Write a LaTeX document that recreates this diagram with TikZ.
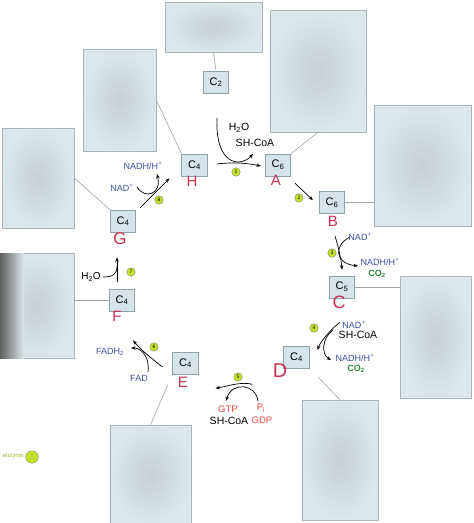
\documentclass[tikz,border=0pt]{standalone}
\usepackage{fontspec}
\setmainfont{Liberation Sans}
\usetikzlibrary{arrows.meta}
\definecolor{boxfill}{HTML}{D5E4EA}
\definecolor{boxedge}{HTML}{8FA2A9}
\definecolor{blankfill}{HTML}{DCE7EB}
\definecolor{blankedge}{HTML}{A9B6BB}
\definecolor{cofblue}{HTML}{3F4FA0}
\definecolor{cogreen}{HTML}{2E8B3A}
\definecolor{cored}{HTML}{E8473E}
\definecolor{hand}{HTML}{CC2F4E}
\definecolor{enzfill}{HTML}{C5E02B}
\definecolor{connline}{HTML}{9AA6AA}
\begin{document}
\begin{tikzpicture}[x=1pt,y=-1pt,
  cbox/.style={draw=boxedge, fill=boxfill, line width=0.6pt, minimum width=25.5pt, minimum height=22pt, inner sep=0pt, font=\fontsize{11}{12}\selectfont},
  blank/.style={draw=blankedge, fill=blankfill, line width=0.6pt, inner sep=0pt,
    path picture={\shade[inner color=black!10!blankfill, outer color=blankfill] (path picture bounding box.south west) rectangle (path picture bounding box.north east);}},
  conn/.style={draw=connline, line width=0.6pt},
  rx/.style={draw=black, line width=0.7pt, -{Stealth[length=4.5pt,width=3.5pt]}},
  rxplain/.style={draw=black, line width=0.7pt},
  enz/.style={circle, fill=enzfill, draw=black!55, line width=0.3pt, minimum size=8.5pt, inner sep=0pt, font=\fontsize{5}{5}\selectfont},
  cofb/.style={text=cofblue, font=\fontsize{9}{10}\selectfont, inner sep=0pt},
  cofg/.style={text=cogreen, font=\fontsize{9}{10}\selectfont\bfseries, inner sep=0pt},
  cofr/.style={text=cored, font=\fontsize{9.5}{10}\selectfont, inner sep=0pt},
  cofk/.style={text=black, font=\fontsize{10.5}{11}\selectfont, inner sep=0pt},
  handlet/.style={text=hand, inner sep=0pt, font=\fontsize{15}{15}\selectfont}
]
\useasboundingbox (0,0) rectangle (474,523);

% blank answer boxes
\node[blank, minimum width=97pt, minimum height=50pt] (bTop) at (213.5,27) {};
\node[blank, minimum width=96pt, minimum height=122pt] (bTR) at (318,71) {};
\node[blank, minimum width=97pt, minimum height=121pt] (bR) at (422.5,165.5) {};
\node[blank, minimum width=71pt, minimum height=122pt] (bRL) at (435.5,337) {};
\node[blank, minimum width=76pt, minimum height=120pt] (bBR) at (340,460) {};
\node[blank, minimum width=81pt, minimum height=100pt] (bBL) at (150.5,475) {};
\node[blank, minimum width=75pt, minimum height=105pt] (bLL) at (36.5,305.5) {};
\shade[left color=black!65, right color=blankfill] (-1,253) rectangle (24,358);
\node[blank, minimum width=72pt, minimum height=100pt] (bLU) at (38,178) {};
\node[blank, minimum width=73pt, minimum height=102pt] (bUL) at (119.5,100) {};

% carbon boxes
\node[cbox] (c2) at (216,82) {C\textsubscript{2}};
\node[cbox] (h) at (194.5,165) {C\textsubscript{4}};
\node[cbox] (a) at (278,165) {C\textsubscript{6}};
\node[cbox] (b) at (332,202.5) {C\textsubscript{6}};
\node[cbox] (c) at (342,287) {C\textsubscript{5}};
\node[cbox] (d) at (296.5,357) {C\textsubscript{4}};
\node[cbox] (e) at (185.5,363) {C\textsubscript{4}};
\node[cbox] (f) at (122,300) {C\textsubscript{4}};
\node[cbox] (g) at (123,221) {C\textsubscript{4}};

% connectors to blank boxes
\draw[conn] (c2.north) -- (bTop.south);
\draw[conn] (h.north west) -- (bUL.east);
\draw[conn] (a.north east) -- (bTR.south);
\draw[conn] (b.east) -- (b.east -| bR.west);
\draw[conn] (c.east) -- (c.east -| bRL.west);
\draw[conn, shorten <=12pt] (d.south east) -- (bBR.north);
\draw[conn, shorten <=12pt] (e.south west) -- (bBL.north);
\draw[conn] (f.west) -- (f.west -| bLL.east);
\draw[conn] (g.north west) -- (bLU.east);

% handwritten letters
\node[handlet] (lh) at (192,181) {H};
\node[handlet] (la) at (276,180) {A};
\node[handlet] (lb) at (333,221) {B};
\node[handlet, font=\fontsize{18}{18}\selectfont] (lc) at (339,302) {C};
\node[handlet, font=\fontsize{20}{20}\selectfont] (ld) at (280,371) {D};
\node[handlet] (le) at (183,382) {E};
\node[handlet] (lf) at (117,316) {F};
\node[handlet, font=\fontsize{17}{17}\selectfont] (lg) at (120,239) {G};

% reaction 1
\coordinate (s1) at (217,118);
\draw[rx] ([shift={(9,-1)}]h.east) .. controls +(18,-2) and +(-15,-3) .. ([shift={(-4,1)}]a.west);
\draw[rx] (s1) .. controls (215,165) and (240,168) .. (253,154);
\node[cofk] (w1) at (239,128) {H\textsubscript{2}O};
\node[cofk] (sc1) at (255,143) {SH-CoA};
\node[enz] (enz1) at (236,172) {1};

% reaction 2
\draw[rx] ([shift={(4,7)}]a.south east) -- ([shift={(-6,9)}]b.north west);
\node[enz] (enz2) at (299,198) {2};

% reaction 3
\coordinate (s3) at (350,237);
\draw[rx] ([shift={(3,22)}]b.south) .. controls +(3,10) and +(-1,-12) .. ([shift={(0,-6)}]c.north);
\draw[rx] (s3) .. controls (334,245) and (334,263) .. (358,266);
\node[cofb] (nad3) at (360,237) {NAD\textsuperscript{+}};
\node[cofb] (nadh3) at (380,262) {NADH/H\textsuperscript{+}};
\node[cofg] (co3) at (377,274) {CO\textsubscript{2}};
\node[enz] (enz3) at (332,253) {3};

% reaction 4
\coordinate (s4) at (333,330);
\draw[rx] ([shift={(-2,24)}]c.south) .. controls +(-8,6) and +(3,-9) .. ([shift={(8,-7)}]d.east);
\draw[rx] (s4) .. controls (322,338) and (321,354) .. (331,360);
\node[cofb] (nad4) at (354,325) {NAD\textsuperscript{+}};
\node[cofk] (sc4) at (358,335) {SH-CoA};
\node[cofb] (nadh4) at (355,358) {NADH/H\textsuperscript{+}};
\node[cofg] (co4) at (356,369) {CO\textsubscript{2}};
\node[enz] (enz4) at (314,328) {4};

% reaction 5
\coordinate (s5) at (258,401);
\draw[rx] ([shift={(-31,16)}]d.south west) .. controls +(-12,-3) and +(12,-2) .. ([shift={(17,14)}]e.south east);
\draw[rx] (s5) .. controls (256,384) and (232,381) .. (226,401);
\node[cofr] (gtp) at (228,409) {GTP};
\node[cofk] (sc5) at (229,421) {SH-CoA};
\node[cofr] (pi) at (261,408) {P\textsubscript{i}};
\node[cofr] (gdp) at (262,420) {GDP};
\node[enz] (enz5) at (238,377) {5};

% reaction 6
\coordinate (s6) at (148,372);
\draw[rx] ([shift={(-10,4)}]e.west) .. controls +(-10,-8) and +(8,10) .. ([shift={(-2,29)}]f.south east);
\draw[rx] (s6) .. controls (150,358) and (142,348) .. (131,348);
\node[cofb] (fadh) at (110,352) {FADH\textsubscript{2}};
\node[cofb] (fad) at (139,378) {FAD};
\node[enz] (enz6) at (154,347) {6};

% reaction 7
\coordinate (s7) at (103,277);
\draw[rx] ([shift={(-5,-7)}]f.north) -- ([shift={(-6,25)}]g.south);
\draw[rxplain] (s7) .. controls (112,277) and (117,275) .. (117,266);
\node[cofk, font=\fontsize{10}{11}\selectfont] (w7) at (91,277) {H\textsubscript{2}O};
\node[enz] (enz7) at (131,272) {7};

% reaction 8
\coordinate (s8) at (137,187);
\draw[rx] ([shift={(4,-2)}]g.north east) -- ([shift={(-12,2)}]h.south west);
\draw[rx] (s8) .. controls (145,200) and (162,194) .. (157,174);
\node[cofb] (nadh8) at (143,166) {NADH/H\textsuperscript{+}};
\node[cofb] (nad8) at (122,188) {NAD\textsuperscript{+}};
\node[enz] (enz8) at (159,200) {8};

% legend
\node[enz, minimum size=12.5pt] (legc) at (32,457) {};
\node[text=enzfill!80!black, font=\fontsize{6}{6}\selectfont, anchor=east, inner sep=0pt] (legt) at (24,457) {enzyme};
\end{tikzpicture}
\end{document}
